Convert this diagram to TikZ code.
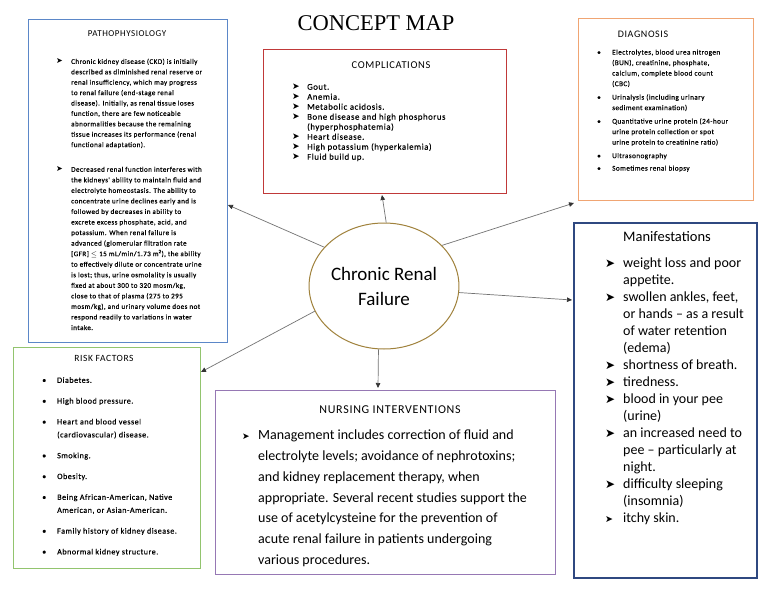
\documentclass[tikz,border=0pt]{standalone}
\usepackage{fontspec}
\setmainfont{Carlito}
\newfontfamily\lsfont[LetterSpace=6,FakeBold=0.3]{Carlito}
\newfontfamily\hdfont[LetterSpace=6]{Carlito}
\newfontfamily\titlefont{Liberation Serif}
\newfontfamily\djv{DejaVu Sans}
\usetikzlibrary{arrows.meta,shapes.geometric}
\definecolor{pblue}{RGB}{91,135,200}
\definecolor{cred}{RGB}{192,57,57}
\definecolor{dorange}{RGB}{240,165,115}
\definecolor{rgreen}{RGB}{146,196,110}
\definecolor{npurple}{RGB}{150,120,180}
\definecolor{mnavy}{RGB}{47,72,128}
\definecolor{egold}{RGB}{160,130,60}
\definecolor{arrgray}{RGB}{115,115,115}
\newcommand{\hb}[2]{\makebox[#1pt][l]{#2}}
\newcommand{\hi}[1]{\hspace*{#1pt}}
\newcommand{\arr}[1]{{\djv\fontsize{#1}{#1}\selectfont ➤}}
\begin{document}
\begin{tikzpicture}[x=1pt,y=-1pt,
  box/.style={draw=#1, line width=0.9pt, inner sep=0pt, rectangle},
  txt/.style={anchor=north west, inner sep=0pt, align=left},
  conn/.style={draw=arrgray, line width=0.7pt, -{Triangle[length=5pt,width=4.5pt,color=black!80]}}]
\fill[white] (0,0) rectangle (768,594);
\useasboundingbox (0,0) rectangle (768,594);

% title
\node[font=\titlefont\fontsize{22.5}{26}\selectfont, inner sep=0pt] (title) at (376,23) {CONCEPT MAP};

% boxes
\node[box=pblue, minimum width=199pt, minimum height=323pt] (patho) at (127.5,180.5) {};
\node[box=cred, minimum width=243pt, minimum height=144pt] (compl) at (384.5,121) {};
\node[box=dorange, minimum width=175pt, minimum height=182pt] (diag) at (665.5,109) {};
\node[box=rgreen, minimum width=187pt, minimum height=221pt] (risk) at (106.5,457.5) {};
\node[box=npurple, minimum width=340pt, minimum height=184pt] (nurse) at (385,482) {};
\node[box=mnavy, line width=1.2pt, minimum width=183pt, minimum height=355pt] (manif) at (665.5,400.5) {};

% central ellipse
\node[ellipse, draw=egold, line width=1pt, minimum width=148pt, minimum height=126pt, inner sep=0pt,
      align=center, font=\fontsize{19}{25}\selectfont] (crf) at (384,286) {Chronic Renal\\Failure};

% pathophysiology
\node[font=\hdfont\fontsize{9}{10}\selectfont, inner sep=0pt] (pathoT) at (127,34) {PATHOPHYSIOLOGY};
\node[txt, font=\lsfont\fontsize{7.1}{10.4}\selectfont] (pathoA) at (56,58.5) {%
\hb{15}{\arr{8}}Chronic kidney disease (CKD) is initially\\
\hi{15}described as diminished renal reserve or\\
\hi{15}renal insufficiency, which may progress\\
\hi{15}to renal failure (end-stage renal\\
\hi{15}disease). Initially, as renal tissue loses\\
\hi{15}function, there are few noticeable\\
\hi{15}abnormalities because the remaining\\
\hi{15}tissue increases its performance (renal\\
\hi{15}functional adaptation).};
\node[txt, font=\lsfont\fontsize{7.1}{10.55}\selectfont] (pathoB) at (56,166.5) {%
\hb{15}{\arr{8}}Decreased renal function interferes with\\
\hi{15}the kidneys' ability to maintain fluid and\\
\hi{15}electrolyte homeostasis. The ability to\\
\hi{15}concentrate urine declines early and is\\
\hi{15}followed by decreases in ability to\\
\hi{15}excrete excess phosphate, acid, and\\
\hi{15}potassium. When renal failure is\\
\hi{15}advanced (glomerular filtration rate\\
\hi{15}[GFR] \ensuremath{\le} 15 mL/min/1.73 m\textsuperscript{2}), the ability\\
\hi{15}to effectively dilute or concentrate urine\\
\hi{15}is lost; thus, urine osmolality is usually\\
\hi{15}fixed at about 300 to 320 mosm/kg,\\
\hi{15}close to that of plasma (275 to 295\\
\hi{15}mosm/kg), and urinary volume does not\\
\hi{15}respond readily to variations in water\\
\hi{15}intake.};

% complications
\node[font=\hdfont\fontsize{10.5}{12}\selectfont, inner sep=0pt] (complT) at (391,65) {COMPLICATIONS};
\node[txt, font=\lsfont\fontsize{8.8}{10}\selectfont] (complL) at (292,83.8) {%
\hb{15}{\arr{9}}Gout.\\
\hb{15}{\arr{9}}Anemia.\\
\hb{15}{\arr{9}}Metabolic acidosis.\\
\hb{15}{\arr{9}}Bone disease and high phosphorus\\
\hi{15}(hyperphosphatemia)\\
\hb{15}{\arr{9}}Heart disease.\\
\hb{15}{\arr{9}}High potassium (hyperkalemia)\\
\hb{15}{\arr{9}}Fluid build up.};

% diagnosis
\node[font=\hdfont\fontsize{10}{12}\selectfont, inner sep=0pt] (diagT) at (643,34) {DIAGNOSIS};
\node[txt, font=\lsfont\fontsize{7.2}{10.5}\selectfont] (diagL) at (597,49.4) {%
\hb{15}{•}Electrolytes, blood urea nitrogen\\
\hi{15}(BUN), creatinine, phosphate,\\
\hi{15}calcium, complete blood count\\
\hi{15}(CBC)\\[3pt]
\hb{15}{•}Urinalysis (including urinary\\
\hi{15}sediment examination)\\[3pt]
\hb{15}{•}Quantitative urine protein (24-hour\\
\hi{15}urine protein collection or spot\\
\hi{15}urine protein to creatinine ratio)\\[3pt]
\hb{15}{•}Ultrasonography\\[2pt]
\hb{15}{•}Sometimes renal biopsy};

% risk factors
\node[font=\hdfont\fontsize{9.5}{11}\selectfont, inner sep=0pt] (riskT) at (104,358) {RISK FACTORS};
\node[txt, font=\lsfont\fontsize{8.1}{13}\selectfont] (riskL) at (42,377) {%
\hb{15}{•}Diabetes.\\[7.8pt]
\hb{15}{•}High blood pressure.\\[7.8pt]
\hb{15}{•}Heart and blood vessel\\
\hi{15}(cardiovascular) disease.\\[7.8pt]
\hb{15}{•}Smoking.\\[7.8pt]
\hb{15}{•}Obesity.\\[7.8pt]
\hb{15}{•}Being African-American, Native\\
\hi{15}American, or Asian-American.\\[7.8pt]
\hb{15}{•}Family history of kidney disease.\\[7.8pt]
\hb{15}{•}Abnormal kidney structure.};

% nursing interventions
\node[font=\hdfont\fontsize{12}{14}\selectfont, inner sep=0pt] (nurseT) at (390,410) {NURSING INTERVENTIONS};
\node[txt, font=\fontsize{14}{20.7}\selectfont] (nurseL) at (242,430) {%
\hb{16}{\arr{9}}Management includes correction of fluid and\\
\hi{16}electrolyte levels; avoidance of nephrotoxins;\\
\hi{16}and kidney replacement therapy, when\\
\hi{16}appropriate. Several recent studies support the\\
\hi{16}use of acetylcysteine for the prevention of\\
\hi{16}acute renal failure in patients undergoing\\
\hi{16}various procedures.};

% manifestations
\node[font=\fontsize{14.5}{16}\selectfont, inner sep=0pt] (manifT) at (667,237) {Manifestations};
\node[txt, font=\fontsize{14}{17}\selectfont] (manifL) at (605,258) {%
\hb{18}{\arr{12}}weight loss and poor\\
\hi{18}appetite.\\
\hb{18}{\arr{12}}swollen ankles, feet,\\
\hi{18}or hands – as a result\\
\hi{18}of water retention\\
\hi{18}(edema)\\
\hb{18}{\arr{12}}shortness of breath.\\
\hb{18}{\arr{12}}tiredness.\\
\hb{18}{\arr{12}}blood in your pee\\
\hi{18}(urine)\\
\hb{18}{\arr{12}}an increased need to\\
\hi{18}pee – particularly at\\
\hi{18}night.\\
\hb{18}{\arr{12}}difficulty sleeping\\
\hi{18}(insomnia)\\
\hb{18}{\arr{9.5}}itchy skin.};

% connectors
\coordinate (tPatho) at (228,205);
\coordinate (tComp) at (382,195);
\coordinate (tDiag) at (574,203);
\coordinate (tMan) at (572,300);
\coordinate (tNur) at (378,388);
\coordinate (tRisk) at (201,372);
\draw[conn] (crf.147) -- (tPatho);
\draw[conn] (crf.88) -- (tComp);
\draw[conn] (crf.35) -- (tDiag);
\draw[conn] (crf.-5) -- (tMan);
\draw[conn] (crf.265) -- (tNur);
\draw[conn] (crf.200) -- (tRisk);
\end{tikzpicture}
\end{document}
